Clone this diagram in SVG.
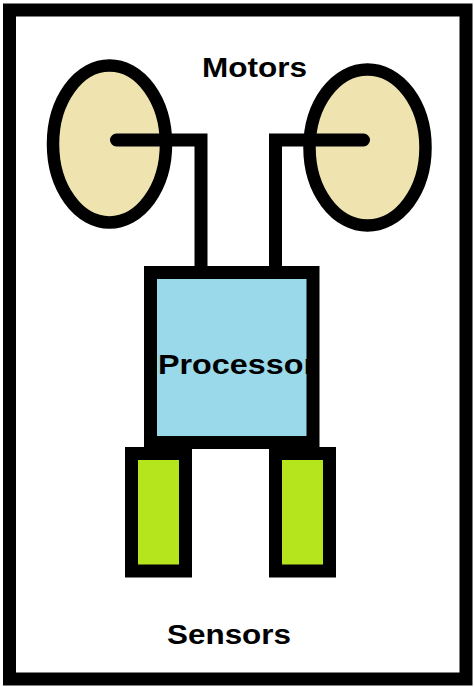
<svg xmlns="http://www.w3.org/2000/svg" width="474" height="687" viewBox="0 0 474 687">
<style>
.ln{fill:none;stroke:#000;stroke-width:13}
.motor{fill:#efe4b0;stroke:#000;stroke-width:12.5}
.sensor{fill:#b5e61d;stroke:#000;stroke-width:13}
.lbl{font-family:"Liberation Sans",Arial,sans-serif;font-weight:bold;font-size:28px;fill:#000}
</style>
<rect x="0" y="0" width="474" height="687" fill="#fff"/>
<g id="frame">
<rect x="9.5" y="10" width="456.5" height="669" fill="#fff" stroke="#000" stroke-width="13"/>
</g>
<g id="motor-left">
<ellipse class="motor" cx="109.5" cy="144" rx="56.5" ry="78.5"/>
</g>
<g id="motor-right">
<ellipse class="motor" cx="367.5" cy="147.5" rx="58" ry="78"/>
</g>
<g id="connectors">
<polyline class="ln" points="116.5,140 201,140 201,275" stroke-linecap="round" stroke-linejoin="miter"/>
<polyline class="ln" points="363.5,140 275.5,140 275.5,275" stroke-linecap="round" stroke-linejoin="miter"/>
</g>
<g id="label-motors">
<text class="lbl" x="202" y="77" textLength="105" lengthAdjust="spacingAndGlyphs">Motors</text>
</g>
<g id="processor">
<rect x="150.5" y="272.5" width="162.5" height="170" fill="#99d9ea"/>
<text class="lbl" x="158" y="374" font-size="30" textLength="158" lengthAdjust="spacingAndGlyphs">Processor</text>
<rect x="150.5" y="272.5" width="162.5" height="170" fill="none" stroke="#000" stroke-width="13"/>
</g>
<g id="sensor-left">
<rect class="sensor" x="131.5" y="453.5" width="54" height="117.5"/>
</g>
<g id="sensor-right">
<rect class="sensor" x="275.5" y="453.5" width="54" height="117.5"/>
</g>
<g id="label-sensors">
<text class="lbl" x="167" y="644" textLength="124" lengthAdjust="spacingAndGlyphs">Sensors</text>
</g>
</svg>
